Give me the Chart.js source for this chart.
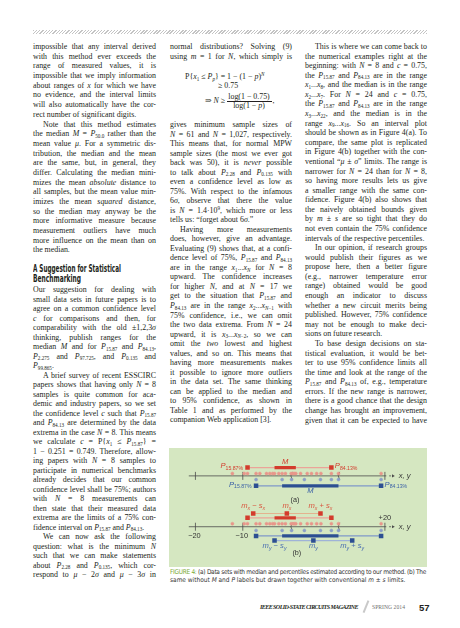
<!DOCTYPE html>
<html>
<head>
<meta charset="utf-8">
<script src="https://cdn.jsdelivr.net/npm/chart.js@4.4.0/dist/chart.umd.min.js"></script>
<style>
  html, body { margin: 0; padding: 0; background: #fff; }
  body { width: 460px; height: 628px; position: relative; overflow: hidden; color: #231f20; }
  .blk { position: absolute; font-family: "Liberation Serif", "DejaVu Serif", serif; font-size: 7.9px; }
  .blk div { height: var(--lh); line-height: var(--lh); white-space: normal; overflow: visible; }
  .j { text-align: justify; text-align-last: justify; }
  .e { text-align: left; }
  .i { text-indent: 10px; }
  sub, sup { font-size: 65%; line-height: 0; position: relative; vertical-align: baseline; }
  sub { bottom: -0.32em; }
  sup { top: -0.5em; }
  .abs { position: absolute; white-space: nowrap; }
  .hatch { position: absolute; left: 33px; top: 30px; width: 394px; height: 3.5px;
    background: repeating-linear-gradient(135deg, #c4c4c4 0 1px, #fff 1px 2.3px); }
  .head { position: absolute; left: 33px; top: 264px; font-family: "Liberation Sans Narrow", "DejaVu Sans Condensed", sans-serif;
    font-weight: bold; font-size: 9.6px; line-height: 10px; color: #231f20; }
  .head div { white-space: nowrap; transform-origin: 0 50%; }
  .eq { position: absolute; white-space: nowrap; font-family: "Liberation Serif", "DejaVu Serif", serif; font-size: 7.9px; line-height: 9.6px; }
  #figbox { position: absolute; left: 169px; top: 448px; width: 258px; height: 119px; background: #d5e7c1; }
  .cap { position: absolute; left: 170px; width: 256px; font-family: "Liberation Sans Narrow", "DejaVu Sans Condensed", sans-serif;
    font-size: 6.5px; color: #333; }
  .cap div { height: 7.5px; line-height: 7.5px; }
  .cap b { color: #7cab36; font-weight: normal; }
</style>
</head>
<body>
<div class="hatch"></div>

<!-- left column -->
<div class="blk" style="left:33px;top:42px;width:123px;--lh:9.7px">
  <div class="j">impossible that any interval derived</div>
  <div class="j">with this method ever exceeds the</div>
  <div class="j">range of measured values, it is</div>
  <div class="j">impossible that we imply information</div>
  <div class="j">about ranges of <i>x</i> for which we have</div>
  <div class="j">no evidence, and the interval limits</div>
  <div class="j">will also automatically have the cor-</div>
  <div class="e">rect number of significant digits.</div>
  <div class="j i">Note that this method estimates</div>
  <div class="j">the median <i>M</i> = <i>P</i><sub>50.0</sub> rather than the</div>
  <div class="j">mean value <i>μ</i>. For a symmetric dis-</div>
  <div class="j">tribution, the median and the mean</div>
  <div class="j">are the same, but, in general, they</div>
  <div class="j">differ. Calculating the median mini-</div>
  <div class="j">mizes the mean <i>absolute</i> distance to</div>
  <div class="j">all samples, but the mean value min-</div>
  <div class="j">imizes the mean <i>squared</i> distance,</div>
  <div class="j">so the median may anyway be the</div>
  <div class="j">more informative measure because</div>
  <div class="j">measurement outliers have much</div>
  <div class="j">more influence on the mean than on</div>
  <div class="e">the median.</div>
</div>
<div class="head">
  <div data-scale="88">A Suggestion for Statistical</div>
  <div data-scale="48">Benchmarking</div>
</div>
<div class="blk" style="left:33px;top:285.2px;width:123px;--lh:9.5px">
  <div class="j">Our suggestion for dealing with</div>
  <div class="j">small data sets in future papers is to</div>
  <div class="j">agree on a common confidence level</div>
  <div class="j"><i>c</i> for comparisons and then, for</div>
  <div class="j">comparability with the old ±1,2,3<i>σ</i></div>
  <div class="j">thinking, publish ranges for the</div>
  <div class="j">median <i>M</i> and for <i>P</i><sub>15.87</sub> and <i>P</i><sub>84.13</sub>,</div>
  <div class="j"><i>P</i><sub>2.275</sub> and <i>P</i><sub>97.725</sub>, and <i>P</i><sub>0.135</sub> and</div>
  <div class="e"><i>P</i><sub>99.865</sub>.</div>
  <div class="j i">A brief survey of recent ESSCIRC</div>
  <div class="j">papers shows that having only <i>N</i> = 8</div>
  <div class="j">samples is quite common for aca-</div>
  <div class="j">demic and industry papers, so we set</div>
  <div class="j">the confidence level <i>c</i> such that <i>P</i><sub>15.87</sub></div>
  <div class="j">and <i>P</i><sub>84.13</sub> are determined by the data</div>
  <div class="j">extrema in the case <i>N</i> = 8. This means</div>
  <div class="j">we calculate <i>c</i> = P{<i>x</i><sub>1</sub> ≤ <i>P</i><sub>15.87</sub>} =</div>
  <div class="j">1 − 0.251 = 0.749. Therefore, allow-</div>
  <div class="j">ing papers with <i>N</i> = 8 samples to</div>
  <div class="j">participate in numerical benchmarks</div>
  <div class="j">already decides that our common</div>
  <div class="j">confidence level shall be 75%; authors</div>
  <div class="j">with <i>N</i> = 8 measurements can</div>
  <div class="j">then state that their measured data</div>
  <div class="j">extrema are the limits of a 75% con-</div>
  <div class="e">fidence interval on <i>P</i><sub>15.87</sub> and <i>P</i><sub>84.13</sub>.</div>
  <div class="j i">We can now ask the following</div>
  <div class="j">question: what is the minimum <i>N</i></div>
  <div class="j">such that we can make statements</div>
  <div class="j">about <i>P</i><sub>2.28</sub> and <i>P</i><sub>0.135</sub>, which cor-</div>
  <div class="j">respond to <i>μ</i> − 2<i>σ</i> and <i>μ</i> − 3<i>σ</i> in</div>
</div>

<!-- middle column -->
<div class="blk" style="left:170px;top:42px;width:122px;--lh:9.6px">
  <div class="j">normal distributions? Solving (9)</div>
  <div class="j">using <i>m</i> = 1 for <i>N</i>, which simply is</div>
</div>
<div class="eq" style="left:185px;top:71.9px">P{<i>x</i><sub>1</sub> ≤ <i>P<sub>p</sub></i>} = 1 − (1 − <i>p</i>)<sup><i>N</i></sup></div>
<div class="eq" style="left:218px;top:81.2px">≥ 0.75</div>
<div class="eq" style="left:205px;top:96.2px">⇒ <i>N</i> ≥</div>
<div class="eq" style="left:226px;top:91.5px;width:46px;text-align:center">log(1 − 0.75)</div>
<div class="abs" style="left:226.5px;top:101.2px;width:45px;height:0.6px;background:#231f20"></div>
<div class="eq" style="left:226px;top:101.4px;width:46px;text-align:center">log(1 − <i>p</i>)</div>
<div class="eq" style="left:272.5px;top:96.2px">,</div>
<div class="blk" style="left:170px;top:120.2px;width:122px;--lh:9.52px">
  <div class="j">gives minimum sample sizes of</div>
  <div class="j"><i>N</i> = 61 and <i>N</i> = 1,027, respectively.</div>
  <div class="j">This means that, for normal MPW</div>
  <div class="j">sample sizes (the most we ever got</div>
  <div class="j">back was 50), it is <i>never</i> possible</div>
  <div class="j">to talk about <i>P</i><sub>2.28</sub> and <i>P</i><sub>0.135</sub> with</div>
  <div class="j">even a confidence level as low as</div>
  <div class="j">75%. With respect to the infamous</div>
  <div class="j">6<i>σ</i>, observe that there the value</div>
  <div class="j">is <i>N</i> = 1.4·10<sup>9</sup>, which more or less</div>
  <div class="e">tells us: “forget about 6<i>σ</i>.”</div>
  <div class="j i">Having more measurements</div>
  <div class="j">does, however, give an advantage.</div>
  <div class="j">Evaluating (9) shows that, at a confi-</div>
  <div class="j">dence level of 75%, <i>P</i><sub>15.87</sub> and <i>P</i><sub>84.13</sub></div>
  <div class="j">are in the range <i>x</i><sub>1</sub>...<i>x</i><sub><i>N</i></sub> for <i>N</i> = 8</div>
  <div class="j">upward. The confidence increases</div>
  <div class="j">for higher <i>N</i>, and at <i>N</i> = 17 we</div>
  <div class="j">get to the situation that <i>P</i><sub>15.87</sub> and</div>
  <div class="j"><i>P</i><sub>84.13</sub> are in the range <i>x</i><sub>2</sub>...<i>x</i><sub><i>N</i>−1</sub> with</div>
  <div class="j">75% confidence, i.e., we can omit</div>
  <div class="j">the two data extrema. From <i>N</i> = 24</div>
  <div class="j">upward, it is <i>x</i><sub>3</sub>...<i>x</i><sub><i>N</i>−2</sub>, so we can</div>
  <div class="j">omit the <i>two</i> lowest and highest</div>
  <div class="j">values, and so on. This means that</div>
  <div class="j">having more measurements makes</div>
  <div class="j">it possible to ignore more outliers</div>
  <div class="j">in the data set. The same thinking</div>
  <div class="j">can be applied to the median and</div>
  <div class="j">to 95% confidence, as shown in</div>
  <div class="j">Table 1 and as performed by the</div>
  <div class="e">companion Web application [3].</div>
</div>

<!-- right column -->
<div class="blk" style="left:305px;top:42px;width:122px;--lh:9.58px">
  <div class="j i">This is where we can come back to</div>
  <div class="j">the numerical examples right at the</div>
  <div class="j">beginning: with <i>N</i> = 8 and <i>c</i> = 0.75,</div>
  <div class="j">the <i>P</i><sub>15.87</sub> and <i>P</i><sub>84.13</sub> are in the range</div>
  <div class="j"><i>x</i><sub>1</sub>...<i>x</i><sub>8</sub>, and the median is in the range</div>
  <div class="j"><i>x</i><sub>2</sub>...<i>x</i><sub>7</sub>. For <i>N</i> = 24 and <i>c</i> = 0.75,</div>
  <div class="j">the <i>P</i><sub>15.87</sub> and <i>P</i><sub>84.13</sub> are in the range</div>
  <div class="j"><i>x</i><sub>3</sub>...<i>x</i><sub>22</sub>, and the median is in the</div>
  <div class="j">range <i>x</i><sub>9</sub>...<i>x</i><sub>16</sub>. So an interval plot</div>
  <div class="j">should be shown as in Figure 4(a). To</div>
  <div class="j">compare, the same plot is replicated</div>
  <div class="j">in Figure 4(b) together with the con-</div>
  <div class="j">ventional “<i>μ</i> ± <i>σ</i>” limits. The range is</div>
  <div class="j">narrower for <i>N</i> = 24 than for <i>N</i> = 8,</div>
  <div class="j">so having more results lets us give</div>
  <div class="j">a smaller range with the same con-</div>
  <div class="j">fidence. Figure 4(b) also shows that</div>
  <div class="j">the naively obtained bounds given</div>
  <div class="j">by <i>m</i> ± <i>s</i> are so tight that they do</div>
  <div class="j">not even contain the 75% confidence</div>
  <div class="e">intervals of the respective percentiles.</div>
  <div class="j i">In our opinion, if research groups</div>
  <div class="j">would publish their figures as we</div>
  <div class="j">propose here, then a better figure</div>
  <div class="j">(e.g., narrower temperature error</div>
  <div class="j">range) obtained would be good</div>
  <div class="j">enough an indicator to discuss</div>
  <div class="j">whether a new circuit merits being</div>
  <div class="j">published. However, 75% confidence</div>
  <div class="j">may not be enough to make deci-</div>
  <div class="e">sions on future research.</div>
  <div class="j i">To base design decisions on sta-</div>
  <div class="j">tistical evaluation, it would be bet-</div>
  <div class="j">ter to use 95% confidence limits all</div>
  <div class="j">the time and look at the range of the</div>
  <div class="j"><i>P</i><sub>15.87</sub> and <i>P</i><sub>84.13</sub> of, e.g., temperature</div>
  <div class="j">errors. If the new range is narrower,</div>
  <div class="j">there is a good chance that the design</div>
  <div class="j">change has brought an improvement,</div>
  <div class="j">given that it can be expected to have</div>
</div>

<!-- figure 4 -->
<div id="figbox"><canvas id="fig4" width="258" height="119" style="width:258px;height:119px;display:block"></canvas></div>
<div class="cap" style="top:569px">
  <div class="j"><b>FIGURE 4:</b> (a) Data sets with median and percentiles estimated according to our method. (b) The</div>
  <div class="e">same without <i>M</i> and <i>P</i> labels but drawn together with conventional <i>m</i> ± <i>s</i> limits.</div>
</div>

<!-- footer -->
<div class="abs" data-fit="98" style="left:260px;top:603.5px;font-family:'Liberation Serif',serif;font-weight:bold;font-style:italic;font-size:6px;line-height:7px">IEEE SOLID-STATE CIRCUITS MAGAZINE</div>
<div class="abs" style="left:365px;top:600px;width:1.6px;height:13px;background:#c9c9c9;transform:rotate(22deg)"></div>
<div class="abs" data-fit="33" style="left:372px;top:603.5px;font-family:'Liberation Serif',serif;font-size:5.6px;line-height:7px;color:#6f6f6f">SPRING 2014</div>
<div class="abs" style="left:419px;top:601.5px;font-family:'Liberation Sans',sans-serif;font-weight:bold;font-size:9.5px;line-height:11px">57</div>

<script>
// values: N = 24 samples (red, x) and N = 8 samples (blue, y)
const redSamples = [-12.2, -9.7, -9.0, -7.2, -6.4, -5.0, -4.3, -3.7, -3.3, -2.4, -1.7, -1.0,
                    0.2, 0.6, 0.9, 1.2, 2.2, 3.6, 4.5, 5.6, 6.5, 8.7, 10.2, 19.2];
const blueSamples = [-7.2, -1.7, 0.3, 3.0, 6.4, 8.7, 10.2, 19.2];
// order statistics (1-based) bounding the 75% intervals
const redPIdx = [3, 22];
const redMIdx = [9, 16];
const bluePIdx = [1, 8];
const blueMIdx = [2, 7];
// conventional mean and standard deviation
const redMS = [-0.7, 7.1];
const blueMS = [4.9, 8.2];
// axis
const axisTicks = [-20, -10, 20];
const axisBentTicks = [0, 10];
const axisTickLabels = ['\u221220', '\u221210', '+20'];

// fit text lines into their column width
function fitLines() {
  document.querySelectorAll('.blk > div, .cap > div').forEach(el => {
    const avail = el.clientWidth;
    const saveA = el.style.textAlign, saveL = el.style.textAlignLast;
    el.style.textAlign = 'left'; el.style.textAlignLast = 'left';
    el.style.whiteSpace = 'nowrap';
    const r = document.createRange();
    r.selectNodeContents(el);
    let w = r.getBoundingClientRect().width;
    if (el.classList.contains('i')) w += 10;
    const n = el.textContent.trim().length;
    if (w > avail - 0.5) el.style.letterSpacing = ((avail - 0.5 - w) / n).toFixed(3) + 'px';
    el.style.whiteSpace = ''; el.style.textAlign = saveA; el.style.textAlignLast = saveL;
  });
  document.querySelectorAll('[data-fit]').forEach(el => {
    const target = +el.dataset.fit;
    const r = document.createRange();
    r.selectNodeContents(el);
    const w = r.getBoundingClientRect().width;
    el.style.letterSpacing = ((target - w) / el.textContent.length).toFixed(3) + 'px';
  });
  document.querySelectorAll('[data-scale]').forEach(el => {
    const r = document.createRange();
    r.selectNodeContents(el);
    const w = r.getBoundingClientRect().width;
    el.style.transform = 'scaleX(' + (+el.dataset.scale / w).toFixed(3) + ')';
  });
}
fitLines();

// row levels inside the figure box (px from top)
const rows = {
  aRedM: 10.3, aRedP: 16.3, aRedDots: 22.7, aAxis: 25.3, aBlueDots: 29.3, aBlueP: 36, aBlueM: 41.5, aLabel: 51.3,
  bRedMsLbl: 59.3, bRedMs: 66, bRedP: 70.7, bRedDots: 77, bAxis: 80.3, bBlueDots: 84.3, bBlueP: 90.3, bBlueMs: 95.3, bBlueMsLbl: 102.5, bLabel: 109
};
const RED = '#d33b2c', RED_LT = '#eba499', RED_DOT = '#e8968a', RED_MS = '#e3b28f';
const BLUE = '#2c4f92', BLUE_LT = '#7f99c9', BLUE_DOT = '#8c9fc6', BLUE_MS = '#9fb3d8';

function dots(vals, row, fill) {
  return { data: vals.map(v => ({ x: v, y: row })), pointRadius: 1.5, pointBackgroundColor: fill,
           pointBorderColor: fill, pointBorderWidth: 0.5, showLine: false, order: 3 };
}
function interval(vals, pIdx, mIdx, row, thin, strong) {
  const p = pIdx.map(i => ({ x: vals[i - 1], y: row }));
  const m = mIdx.map(i => ({ x: vals[i - 1], y: row }));
  return [
    { data: p, showLine: true, borderColor: thin, borderWidth: 1.2, pointRadius: 0, order: 2 },
    { data: m, showLine: true, borderColor: strong, borderWidth: 3.3, borderCapStyle: 'butt', pointRadius: 0, order: 1 },
    { data: p, showLine: false, pointStyle: 'rect', pointRadius: 3.2, pointBackgroundColor: strong, pointBorderWidth: 0, order: 0 }
  ];
}
function meanSd(ms, row, thin, strong) {
  const pts = [ms[0] - ms[1], ms[0], ms[0] + ms[1]].map(v => ({ x: v, y: row }));
  return { data: pts, showLine: true, borderColor: thin, borderWidth: 1.2, pointStyle: 'rect',
           pointRadius: 3.2, pointBackgroundColor: strong, pointBorderWidth: 0, order: 0 };
}

function rich(ctx, parts, x, y, align, color, size) {
  size = size || 7.6;
  const fonts = parts.map(p => (p[1].includes('i') ? 'italic ' : '') + (p[1].includes('s') ? size * 0.68 : size) + 'px "Liberation Sans", Arial, sans-serif');
  let w = 0;
  const ws = parts.map((p, k) => { ctx.font = fonts[k]; const m = ctx.measureText(p[0]).width; w += m; return m; });
  let cx = align === 'center' ? x - w / 2 : align === 'right' ? x - w : x;
  ctx.fillStyle = color; ctx.textBaseline = 'middle'; ctx.textAlign = 'left';
  parts.forEach((p, k) => {
    ctx.font = fonts[k];
    ctx.fillText(p[0], cx, y + (p[1].includes('s') ? 2.2 : 0));
    cx += ws[k];
  });
}

const figPlugin = {
  id: 'figPlugin',
  beforeDatasetsDraw(chart) {
    const { ctx, scales: { x, y } } = chart;
    ctx.save();
    [rows.aAxis, rows.bAxis].forEach(r => {
      const yy = y.getPixelForValue(r);
      ctx.strokeStyle = '#4a4a4a'; ctx.lineWidth = 0.8;
      ctx.beginPath();
      ctx.moveTo(x.getPixelForValue(-21.4), yy); ctx.lineTo(x.getPixelForValue(20.3), yy);
      ctx.moveTo(x.getPixelForValue(20.9), yy); ctx.lineTo(x.getPixelForValue(21.3), yy);
      ctx.stroke();
      ctx.fillStyle = '#4a4a4a';
      ctx.beginPath();
      ctx.moveTo(x.getPixelForValue(21.5), yy - 1.6);
      ctx.lineTo(x.getPixelForValue(22.1), yy);
      ctx.lineTo(x.getPixelForValue(21.5), yy + 1.6);
      ctx.fill();
      ctx.beginPath();
      axisTicks.forEach(t => { const px = x.getPixelForValue(t); ctx.moveTo(px, yy - 4); ctx.lineTo(px, yy + 4); });
      ctx.stroke();
      ctx.beginPath();
      axisBentTicks.forEach(t => {
        const px = x.getPixelForValue(t) + 1;
        ctx.moveTo(px + 1.2, yy - 4); ctx.quadraticCurveTo(px - 1.8, yy, px + 1.2, yy + 4);
      });
      ctx.stroke();
      rich(ctx, [['x, y', 'i']], x.getPixelForValue(22.9), yy, 'left', '#333', 7.6);
    });
    ctx.restore();
  },
  afterDatasetsDraw(chart) {
    const { ctx, scales: { x, y } } = chart;
    const px = v => x.getPixelForValue(v), py = v => y.getPixelForValue(v);
    ctx.save();
    // (a)
    const rP = redPIdx.map(i => redSamples[i - 1]), rM = redMIdx.map(i => redSamples[i - 1]);
    const bP = bluePIdx.map(i => blueSamples[i - 1]), bM = blueMIdx.map(i => blueSamples[i - 1]);
    rich(ctx, [['M', 'i']], (px(rM[0]) + px(rM[1])) / 2, py(rows.aRedM), 'center', RED);
    rich(ctx, [['P', 'i'], ['15.87%', 's']], px(rP[0]) - 4.5, py(rows.aRedP) - 1.5, 'right', RED);
    rich(ctx, [['P', 'i'], ['84.13%', 's']], px(rP[1]) + 3.5, py(rows.aRedP) - 1.5, 'left', RED);
    rich(ctx, [['P', 'i'], ['15.87%', 's']], px(bP[0]) - 4.5, py(rows.aBlueP) - 1, 'right', '#3a60a6');
    rich(ctx, [['P', 'i'], ['84.13%', 's']], px(bP[1]) + 3.5, py(rows.aBlueP) - 1, 'left', '#3a60a6');
    rich(ctx, [['M', 'i']], (px(bM[0]) + px(bM[1])) / 2, py(rows.aBlueM), 'center', '#3a60a6');
    rich(ctx, [['(a)', '']], px(1), py(rows.aLabel), 'center', '#333', 7.2);
    // (b)
    const rx = [redMS[0] - redMS[1], redMS[0], redMS[0] + redMS[1]];
    const bx = [blueMS[0] - blueMS[1], blueMS[0], blueMS[0] + blueMS[1]];
    const mx = [[['m', 'i'], ['x', 'si'], [' \u2212 ', ''], ['s', 'i'], ['x', 'si']], [['m', 'i'], ['x', 'si']],
                [['m', 'i'], ['x', 'si'], [' + ', ''], ['s', 'i'], ['x', 'si']]];
    const my = [[['m', 'i'], ['y', 'si'], [' \u2212 ', ''], ['s', 'i'], ['y', 'si']], [['m', 'i'], ['y', 'si']],
                [['m', 'i'], ['y', 'si'], [' + ', ''], ['s', 'i'], ['y', 'si']]];
    rx.forEach((v, k) => rich(ctx, mx[k], px(v), py(rows.bRedMsLbl) - 1, 'center', '#d9563f'));
    bx.forEach((v, k) => rich(ctx, my[k], px(v), py(rows.bBlueMsLbl) - 1, 'center', '#4a6fb0'));
    const ay = py(rows.bAxis);
    rich(ctx, [[axisTickLabels[0], '']], px(axisTicks[0]) - 1, ay + 9.5, 'center', '#333', 7.4);
    rich(ctx, [[axisTickLabels[1], '']], px(axisTicks[1]) - 1, ay + 9.5, 'center', '#333', 7.4);
    rich(ctx, [[axisTickLabels[2], '']], px(axisTicks[2]), ay - 8.5, 'center', '#333', 7.4);
    rich(ctx, [['(b)', '']], px(1.4), py(rows.bLabel), 'center', '#333', 7.2);
    ctx.restore();
  }
};

const datasets = [
  dots(redSamples, rows.aRedDots, RED_DOT),
  dots(blueSamples, rows.aBlueDots, BLUE_DOT),
  ...interval(redSamples, redPIdx, redMIdx, rows.aRedP, RED_LT, RED),
  ...interval(blueSamples, bluePIdx, blueMIdx, rows.aBlueP, BLUE_LT, BLUE),
  dots(redSamples, rows.bRedDots, RED_DOT),
  dots(blueSamples, rows.bBlueDots, BLUE_DOT),
  ...interval(redSamples, redPIdx, redMIdx, rows.bRedP, RED_LT, RED),
  ...interval(blueSamples, bluePIdx, blueMIdx, rows.bBlueP, BLUE_LT, BLUE),
  meanSd(redMS, rows.bRedMs, RED_MS, RED),
  meanSd(blueMS, rows.bBlueMs, BLUE_MS, BLUE)
];

new Chart(document.getElementById('fig4'), {
  type: 'scatter',
  data: { datasets },
  plugins: [figPlugin],
  options: {
    responsive: false,
    animation: false,
    layout: { padding: 0 },
    plugins: { legend: { display: false }, tooltip: { enabled: false } },
    scales: {
      x: { type: 'linear', min: -24.63, max: 27.94, display: false },
      y: { type: 'linear', min: 0, max: 119, reverse: true, display: false }
    }
  }
});
</script>
</body>
</html>
